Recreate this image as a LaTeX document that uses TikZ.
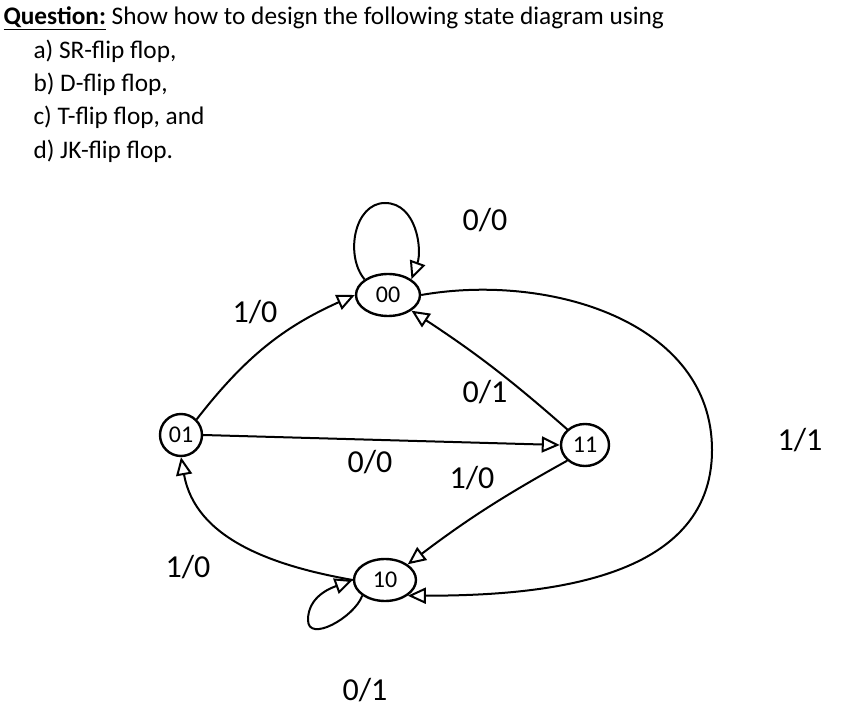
\documentclass[tikz,border=0pt]{standalone}
\usepackage{fontspec}
\setmainfont{Carlito}
\usetikzlibrary{arrows.meta,shapes.geometric}
\begin{document}
\begin{tikzpicture}[x=1pt,y=-1pt,
  st/.style={draw,line width=2.4pt,ellipse,minimum width=#1,minimum height=42pt,inner sep=0pt,font=\fontsize{24}{26}\selectfont},
  ed/.style={line width=2pt,-{Triangle[open,length=18pt,width=16pt,line width=2pt]}},
  lb/.style={font=\fontsize{32}{34}\selectfont},
  tx/.style={anchor=west,font=\fontsize{25.3}{28}\selectfont}]
\useasboundingbox (0,0) rectangle (863,722);
\fill[white] (0,0) rectangle (863,722);
\node[tx] (q) at (0,18) {\textbf{\underline{Question:}} Show how to design the following state diagram using};
\node[tx] (a) at (30,51) {a) SR-flip flop,};
\node[tx] (b) at (30,84) {b) D-flip flop,};
\node[tx] (c) at (30,117) {c) T-flip flop, and};
\node[tx] (d) at (30,151) {d) JK-flip flop.};
\node[st=64pt] (s00) at (388,295) {00};
\node[st=42pt] (s01) at (181,435) {01};
\node[st=48pt] (s11) at (585,445) {11};
\node[st=62pt] (s10) at (385,580) {10};
\draw[ed] (s01.north east) to[bend left=14] (s00.west);
\draw[ed] (s11.north west) to[bend right=4] (s00.south east);
\draw[ed] (s01.east) -- (s11.west);
\draw[ed] (s10.west) to[out=170,in=-80] (s01.south);
\draw[ed] (s11.south west) to[bend right=4] (s10.north east);
\draw[ed] (s00.east) to[out=10,in=90] (712,450) to[out=-90,in=0] (s10.south east);
\draw[ed] (s00.north west) to[out=130,in=180] (385,203) to[out=0,in=70] (s00.north east);
\draw[ed] (s10.south west) to[out=-110,in=-90] (308,620) to[out=90,in=200] (s10.west);
\node[lb] (l1) at (255,312) {1/0};
\node[lb] (l2) at (485,220) {0/0};
\node[lb] (l3) at (485,392) {0/1};
\node[lb] (l4) at (370,462) {0/0};
\node[lb] (l5) at (472,478) {1/0};
\node[lb] (l6) at (188,567) {1/0};
\node[lb] (l7) at (365,690) {0/1};
\node[lb] (l8) at (800,440) {1/1};
\end{tikzpicture}
\end{document}
